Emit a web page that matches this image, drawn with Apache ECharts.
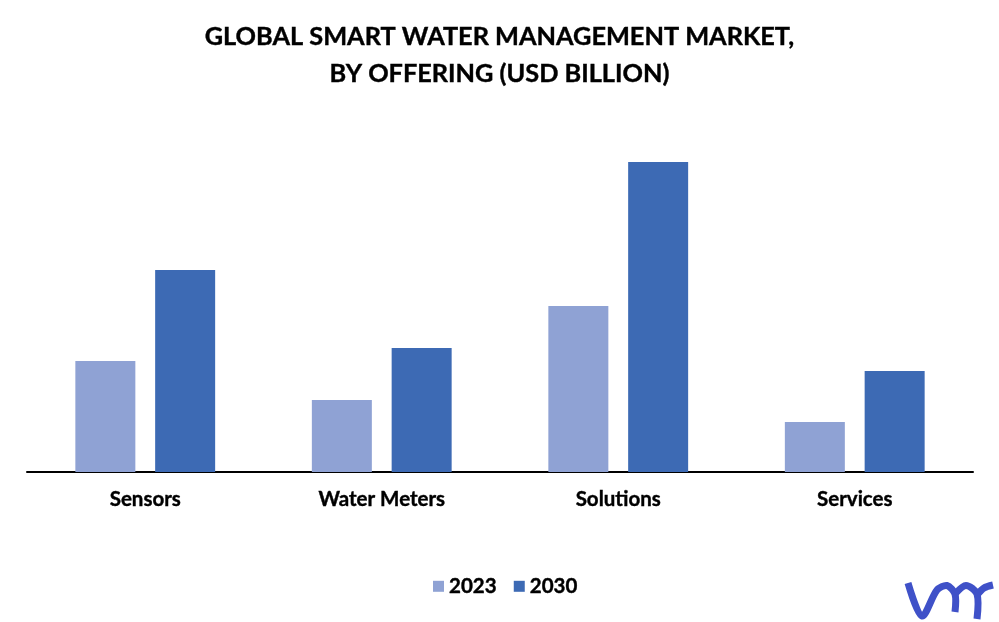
<!DOCTYPE html>
<html>
<head>
<meta charset="utf-8">
<style>
  html, body { margin: 0; padding: 0; background: #fff; }
  #main { width: 999px; height: 622px; }
</style>
</head>
<body>
<div id="main"></div>
<script src="https://cdn.jsdelivr.net/npm/echarts@6/dist/echarts.min.js"></script>
<script>
// values, the picture has no value axis
const categories = ["Sensors", "Water Meters", "Solutions", "Services"];
const values2023 = [1.11, 0.72, 1.66, 0.50];
const values2030 = [2.02, 1.24, 3.10, 1.01];

const font = "Lato";
const logoColor = "#3f51c8";
let chart = echarts.init(document.getElementById("main"));

function logoStroke(points) {
    return {
        type: "polyline",
        shape: { points: points, smooth: 0.3 },
        style: { fill: "none", stroke: logoColor, lineWidth: 7, lineCap: "butt", lineJoin: "round" }
    };
}

chart.setOption({
    animation: false,
    backgroundColor: "#fff",
    title: {
        text: "GLOBAL SMART WATER MANAGEMENT MARKET,\nBY OFFERING (USD BILLION)",
        left: "center",
        top: 13,
        textStyle: {
            fontFamily: font,
            fontSize: 25.3,
            fontWeight: "bold",
            color: "#000",
            lineHeight: 37,
            align: "center",
            textBorderColor: "#000",
            textBorderWidth: 0.4
        }
    },
    legend: {
        bottom: 20,
        left: 428,
        icon: "rect",
        itemWidth: 11,
        itemHeight: 11,
        itemGap: 17,
        textStyle: {
            fontFamily: font,
            fontSize: 20.5,
            fontWeight: "bold",
            color: "#000",
            textBorderColor: "#000",
            textBorderWidth: 0.4
        },
        data: ["2023", "2030"]
    },
    grid: {
        left: 27,
        right: 26,
        top: 120,
        bottom: 150
    },
    xAxis: {
        type: "category",
        data: categories,
        axisTick: { show: false },
        axisLine: { lineStyle: { color: "#000", width: 2 } },
        axisLabel: {
            fontFamily: font,
            fontSize: 20.5,
            fontWeight: "bold",
            color: "#000",
            margin: 17,
            textBorderColor: "#000",
            textBorderWidth: 0.4
        }
    },
    yAxis: {
        type: "value",
        min: 0,
        max: 3.52,
        show: false,
        splitLine: { show: false }
    },
    series: [
        {
            name: "2023",
            type: "bar",
            data: values2023,
            barWidth: 60,
            barGap: "33%",
            itemStyle: { color: "#8fa2d4" }
        },
        {
            name: "2030",
            type: "bar",
            data: values2030,
            barWidth: 60,
            itemStyle: { color: "#3d6ab4" }
        }
    ],
    // vmr logo, bottom right corner
    graphic: [
        logoStroke([[908, 583], [922, 616], [937, 590], [947, 585.5], [955, 594], [955, 612]]),
        logoStroke([[955, 594], [966, 585.5], [977, 594], [977, 619]]),
        logoStroke([[977, 595], [984, 588], [993, 585]])
    ]
});
</script>
</body>
</html>
